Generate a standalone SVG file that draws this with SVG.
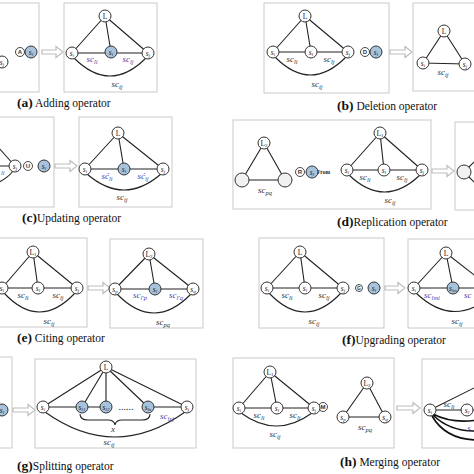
<svg xmlns="http://www.w3.org/2000/svg" width="474" height="474" viewBox="0 0 474 474">
<defs>
<style>
.box{fill:#fff;stroke:#c9c9c9;stroke-width:1}
.e{stroke:#222;stroke-width:1.1;fill:none}
.th{stroke:#111;stroke-width:1.6;fill:none}
.n{fill:#fff;stroke:#333;stroke-width:1}
.b{fill:#a7c2dc;stroke:#333;stroke-width:1}
.g{fill:#f1f1f1;stroke:#333;stroke-width:1}
.nl{font-family:"Liberation Serif",serif;font-style:italic;font-size:7.5px;text-anchor:middle;fill:#222}
.up{font-style:normal}
.sb{font-size:5px}
.lab{font-family:"Liberation Serif",serif;font-style:italic;font-size:9px;text-anchor:middle;fill:#333}
.lab .sb{font-size:6.5px}
.blu{fill:#4a45b0}
.arr{fill:#fff;stroke:#bdbdbd;stroke-width:1.2}
.op circle{fill:none;stroke:#333;stroke-width:0.9}
.op text{font-family:"Liberation Sans",sans-serif;font-weight:bold;font-size:6px;text-anchor:middle;fill:#333}
.cap{font-family:"Liberation Serif",serif;font-size:11.5px;fill:#111}
.cb{font-weight:bold;font-size:13.5px}
.from{font-family:"Liberation Serif",serif;font-weight:bold;font-size:5.5px;fill:#222}
</style>
</defs>

<g id="boxes">
<rect class="box" x="-5" y="3" width="44" height="89"/>
<rect class="box" x="64" y="3" width="93" height="89"/>
<rect class="box" x="264" y="3" width="125" height="90"/>
<rect class="box" x="413" y="3" width="70" height="88"/>
<rect class="box" x="-5" y="117" width="59" height="90"/>
<rect class="box" x="79" y="117" width="93" height="90"/>
<rect class="box" x="233" y="120" width="198" height="89"/>
<rect class="box" x="455" y="122" width="30" height="88"/>
<rect class="box" x="-5" y="238" width="92" height="89"/>
<rect class="box" x="110" y="239" width="93" height="89"/>
<rect class="box" x="259" y="238" width="125" height="90"/>
<rect class="box" x="408" y="239" width="75" height="89"/>
<rect class="box" x="-5" y="357" width="17" height="91"/>
<rect class="box" x="35" y="359" width="161" height="89"/>
<rect class="box" x="233" y="358" width="161" height="90"/>
<rect class="box" x="422" y="359" width="60" height="89"/>
</g>

<g id="arrows">
<path class="arr" d="M42,50 H56 V46.5 L63,52 L56,57.5 V54 H42 Z"/>
<path class="arr" d="M390,50 H405 V46.5 L412,52 L405,57.5 V54 H390 Z"/>
<path class="arr" d="M55,164 H70 V160.5 L77,166 L70,171.5 V168 H55 Z"/>
<path class="arr" d="M432,169 H447 V165.5 L454,171 L447,176.5 V173 H432 Z"/>
<path class="arr" d="M88,286 H103 V282.5 L110,288 L103,293.5 V290 H88 Z"/>
<path class="arr" d="M385,286 H398 V282.5 L405,288 L398,293.5 V290 H385 Z"/>
<path class="arr" d="M13,408 H28 V404.5 L35,410 L28,415.5 V412 H13 Z"/>
<path class="arr" d="M397,406 H413 V402.5 L420,408 L413,413.5 V410 H397 Z"/>
</g>

<g id="connectors">
<path class="e" d="M-3,54 L1,58"/>
<path class="e" d="M105,16 L72,53 M105,16 L111,52 M105,16 L148,53 M72,53 L148,53"/>
<path class="e" d="M74,58 Q110,94 146,58"/>
<path class="e" d="M305,16 L273,52 M305,16 L311,52 M305,16 L348,52 M273,52 L348,52"/>
<path class="e" d="M275,57 Q310.5,93 346,57"/>
<path class="e" d="M444,31 L423,63 M444,31 L465,64 M423,63 L465,64"/>
<path class="e" d="M-2,147 L15,166 M-2,166 L15,166 M-3,183 Q8,178 13,171"/>
<path class="e" d="M118,133 L85,169 M118,133 L124,169 M118,133 L163,169 M85,169 L163,169"/>
<path class="e" d="M87,174 Q124,206 161,174"/>
<path class="e" d="M264,143 L242,180 M264,143 L285,180 M242,180 L285,180"/>
<path class="e" d="M380,133 L347,170 M380,133 L384,170 M380,133 L422,170 M347,170 L422,170"/>
<path class="e" d="M349,175 Q384.5,209 420,175"/>
<path class="e" d="M464,172 L478,158 M464,172 L478,186"/>
<path class="e" d="M33,252 L2,288 M33,252 L38,288 M33,252 L77,288 M2,288 L77,288"/>
<path class="e" d="M4,293 Q39.5,331 75,293"/>
<path class="e" d="M149,254 L115,289 M149,254 L155,289 M149,254 L193,289 M115,289 L193,289"/>
<path class="e" d="M117,294 Q154,332 191,294"/>
<path class="e" d="M300,252 L267,288 M300,252 L305,288 M300,252 L343,288 M267,288 L343,288"/>
<path class="e" d="M269,293 Q305,331 341,293"/>
<path class="e" d="M446,253 L414,288 M446,253 L453,288 M446,253 L478,278 M414,288 L478,288"/>
<path class="e" d="M416,293 Q455,330 494,293"/>
<path class="e" d="M106,367 L43,407 M106,367 L82,407 M106,367 L106,407 M106,367 L148,407 M106,367 L187,407 M43,407 L106,407 M148,407 L187,407"/>
<path class="e" d="M45,412 Q115,462 185,412"/>
<path class="e" d="M80,414 Q80,420 88,420 H108 Q114,420 115,425 Q116,420 122,420 H142 Q150,420 150,414"/>
<path class="e" d="M270,372 L239,408 M270,372 L277,408 M270,372 L314,408 M239,408 L314,408"/>
<path class="e" d="M241,413 Q276.5,439 312,413"/>
<path class="e" d="M367,383 L343,417 M367,383 L385,417 M343,417 L385,417"/>
<path class="e" d="M430,410 L478,386 M430,410 L478,410"/>
<path class="th" d="M433,414 Q452,424 478,420 M433,415 Q450,432 478,431 M432,416 Q446,440 478,440"/>
</g>

<g id="ops">
<g class="op"><circle cx="20" cy="52" r="4.5"/><text x="20" y="54.2">A</text></g>
<g class="op"><circle cx="365" cy="52" r="4.5"/><text x="365" y="54.2">D</text></g>
<g class="op"><circle cx="28" cy="166" r="4.5"/><text x="28" y="168.2">U</text></g>
<g class="op"><circle cx="300" cy="172" r="4.5"/><text x="300" y="174.2">R</text></g>
<g class="op"><circle cx="359" cy="288" r="3.5"/><text x="359" y="290" style="font-size:5px">G</text></g>
<g class="op"><circle cx="323" cy="407" r="4.5"/><text x="323" y="409.2">M</text></g>
<text class="from" x="317" y="174">From</text>
</g>

<g id="n-a-left-sj"><circle class="n" cx="2" cy="62" r="6"/><text class="nl" x="2" y="64.5">s<tspan class="sb" dy="1.5">j</tspan></text></g>
<g id="n-a-new"><circle class="b" cx="31" cy="52" r="6"/><text class="nl" x="31" y="54.5">s<tspan class="sb" dy="1.5">l</tspan></text></g>
<g id="n-a-L"><circle class="n" cx="105" cy="16" r="6"/><text class="nl up" x="105" y="18.5">L</text></g>
<g id="n-a-si"><circle class="n" cx="72" cy="53" r="6"/><text class="nl" x="72" y="55.5">s<tspan class="sb" dy="1.5">i</tspan></text></g>
<g id="n-a-sl"><circle class="b" cx="111" cy="52" r="6"/><text class="nl" x="111" y="54.5">s<tspan class="sb" dy="1.5">l</tspan></text></g>
<g id="n-a-sj"><circle class="n" cx="148" cy="53" r="6"/><text class="nl" x="148" y="55.5">s<tspan class="sb" dy="1.5">j</tspan></text></g>

<g id="n-b-L"><circle class="n" cx="305" cy="16" r="6"/><text class="nl up" x="305" y="18.5">L</text></g>
<g id="n-b-si"><circle class="n" cx="273" cy="52" r="6"/><text class="nl" x="273" y="54.5">s<tspan class="sb" dy="1.5">i</tspan></text></g>
<g id="n-b-sl"><circle class="n" cx="311" cy="52" r="6"/><text class="nl" x="311" y="54.5">s<tspan class="sb" dy="1.5">l</tspan></text></g>
<g id="n-b-sj"><circle class="n" cx="348" cy="52" r="6"/><text class="nl" x="348" y="54.5">s<tspan class="sb" dy="1.5">j</tspan></text></g>
<g id="n-b-del"><circle class="b" cx="376" cy="52" r="6"/><text class="nl" x="376" y="54.5">s<tspan class="sb" dy="1.5">l</tspan></text></g>
<g id="n-b2-L"><circle class="n" cx="444" cy="31" r="6"/><text class="nl up" x="444" y="33.5">L</text></g>
<g id="n-b2-si"><circle class="n" cx="423" cy="63" r="6"/><text class="nl" x="423" y="65.5">s<tspan class="sb" dy="1.5">i</tspan></text></g>
<g id="n-b2-sj"><circle class="n" cx="465" cy="64" r="6"/><text class="nl" x="465" y="66.5">s<tspan class="sb" dy="1.5">j</tspan></text></g>

<g id="n-c-left-sj"><circle class="n" cx="15" cy="166" r="6"/><text class="nl" x="15" y="168.5">s<tspan class="sb" dy="1.5">j</tspan></text></g>
<g id="n-c-new"><circle class="b" cx="44" cy="166" r="6"/><text class="nl" x="44" y="168.5">s<tspan class="sb" dy="1.5">l</tspan></text></g>
<g id="n-c-L"><circle class="n" cx="118" cy="133" r="6"/><text class="nl up" x="118" y="135.5">L</text></g>
<g id="n-c-si"><circle class="n" cx="85" cy="169" r="6"/><text class="nl" x="85" y="171.5">s<tspan class="sb" dy="1.5">i</tspan></text></g>
<g id="n-c-sl"><circle class="b" cx="124" cy="169" r="6"/><text class="nl" x="124" y="171.5">s<tspan class="sb" dy="1.5">l</tspan></text></g>
<g id="n-c-sj"><circle class="n" cx="163" cy="169" r="6"/><text class="nl" x="163" y="171.5">s<tspan class="sb" dy="1.5">j</tspan></text></g>

<g id="n-d-L2"><circle class="n" cx="264" cy="143" r="6"/><text class="nl up" x="264" y="145.5">L<tspan class="sb" dy="1.5">2</tspan></text></g>
<g id="n-d-p"><circle class="g" cx="242" cy="180" r="7"/></g>
<g id="n-d-q"><circle class="g" cx="285" cy="180" r="7"/></g>
<g id="n-d-new"><circle class="b" cx="312" cy="172" r="6"/><text class="nl" x="312" y="174.5">s<tspan class="sb" dy="1.5">l</tspan></text></g>
<g id="n-d-L1"><circle class="n" cx="380" cy="133" r="6"/><text class="nl up" x="380" y="135.5">L<tspan class="sb" dy="1.5">1</tspan></text></g>
<g id="n-d-si"><circle class="n" cx="347" cy="170" r="6"/><text class="nl" x="347" y="172.5">s<tspan class="sb" dy="1.5">i</tspan></text></g>
<g id="n-d-sl"><circle class="n" cx="384" cy="170" r="6"/><text class="nl" x="384" y="172.5">s<tspan class="sb" dy="1.5">l</tspan></text></g>
<g id="n-d-sj"><circle class="n" cx="422" cy="170" r="6"/><text class="nl" x="422" y="172.5">s<tspan class="sb" dy="1.5">j</tspan></text></g>
<g id="n-d2-p"><circle class="g" cx="464" cy="172" r="7"/></g>

<g id="n-e-L1"><circle class="n" cx="33" cy="252" r="6"/><text class="nl up" x="33" y="254.5">L<tspan class="sb" dy="1.5">1</tspan></text></g>
<g id="n-e-si"><circle class="n" cx="2" cy="288" r="6"/><text class="nl" x="2" y="290.5">s<tspan class="sb" dy="1.5">i</tspan></text></g>
<g id="n-e-sl"><circle class="n" cx="38" cy="288" r="6"/><text class="nl" x="38" y="290.5">s<tspan class="sb" dy="1.5">l</tspan></text></g>
<g id="n-e-sj"><circle class="n" cx="77" cy="288" r="6"/><text class="nl" x="77" y="290.5">s<tspan class="sb" dy="1.5">j</tspan></text></g>
<g id="n-e2-L2"><circle class="n" cx="149" cy="254" r="6"/><text class="nl up" x="149" y="256.5">L<tspan class="sb" dy="1.5">2</tspan></text></g>
<g id="n-e2-sp"><circle class="n" cx="115" cy="289" r="6"/><text class="nl" x="115" y="291.5">s<tspan class="sb" dy="1.5">p</tspan></text></g>
<g id="n-e2-sl"><circle class="b" cx="155" cy="289" r="6"/><text class="nl" x="155" y="291.5">s<tspan class="sb" dy="1.5">l</tspan></text></g>
<g id="n-e2-sq"><circle class="n" cx="193" cy="289" r="6"/><text class="nl" x="193" y="291.5">s<tspan class="sb" dy="1.5">q</tspan></text></g>

<g id="n-f-L"><circle class="n" cx="300" cy="252" r="6"/><text class="nl up" x="300" y="254.5">L</text></g>
<g id="n-f-si"><circle class="n" cx="267" cy="288" r="6"/><text class="nl" x="267" y="290.5">s<tspan class="sb" dy="1.5">i</tspan></text></g>
<g id="n-f-sl"><circle class="n" cx="305" cy="288" r="6"/><text class="nl" x="305" y="290.5">s<tspan class="sb" dy="1.5">l</tspan></text></g>
<g id="n-f-sj"><circle class="n" cx="343" cy="288" r="6"/><text class="nl" x="343" y="290.5">s<tspan class="sb" dy="1.5">j</tspan></text></g>
<g id="n-f-new"><circle class="b" cx="374" cy="288" r="6"/><text class="nl" x="374" y="290.5">s<tspan class="sb" dy="1.5">l</tspan></text></g>
<g id="n-f2-L"><circle class="n" cx="446" cy="253" r="6"/><text class="nl up" x="446" y="255.5">L</text></g>
<g id="n-f2-si"><circle class="n" cx="414" cy="288" r="6"/><text class="nl" x="414" y="290.5">s<tspan class="sb" dy="1.5">i</tspan></text></g>
<g id="n-f2-slm"><circle class="b" cx="453" cy="288" r="6"/><text class="nl" x="453" y="290.5">s<tspan class="sb" dy="1.5">lm</tspan></text></g>

<g id="n-g-left"><circle class="b" cx="2" cy="410" r="6"/><text class="nl" x="2" y="412.5">s<tspan class="sb" dy="1.5">l</tspan></text></g>
<g id="n-g-L"><circle class="n" cx="106" cy="367" r="6"/><text class="nl up" x="106" y="369.5">L</text></g>
<g id="n-g-si"><circle class="n" cx="43" cy="407" r="6"/><text class="nl" x="43" y="409.5">s<tspan class="sb" dy="1.5">i</tspan></text></g>
<g id="n-g-sl1"><circle class="b" cx="82" cy="407" r="6"/><text class="nl" x="82" y="409.5">s<tspan class="sb" dy="1.5">l1</tspan></text></g>
<g id="n-g-sl2"><circle class="b" cx="106" cy="407" r="6"/><text class="nl" x="106" y="409.5">s<tspan class="sb" dy="1.5">l2</tspan></text></g>
<text class="nl up" x="126" y="410" style="font-size:10px;fill:#222">......</text>
<g id="n-g-slx"><circle class="b" cx="148" cy="407" r="6"/><text class="nl" x="148" y="409.5">s<tspan class="sb" dy="1.5">lx</tspan></text></g>
<g id="n-g-sj"><circle class="n" cx="187" cy="407" r="6"/><text class="nl" x="187" y="409.5">s<tspan class="sb" dy="1.5">j</tspan></text></g>

<g id="n-h-L1"><circle class="n" cx="270" cy="372" r="6"/><text class="nl up" x="270" y="374.5">L<tspan class="sb" dy="1.5">1</tspan></text></g>
<g id="n-h-si"><circle class="n" cx="239" cy="408" r="6"/><text class="nl" x="239" y="410.5">s<tspan class="sb" dy="1.5">i</tspan></text></g>
<g id="n-h-sl"><circle class="n" cx="277" cy="408" r="6"/><text class="nl" x="277" y="410.5">s<tspan class="sb" dy="1.5">l</tspan></text></g>
<g id="n-h-sj"><circle class="n" cx="314" cy="408" r="6"/><text class="nl" x="314" y="410.5">s<tspan class="sb" dy="1.5">j</tspan></text></g>
<g id="n-h-L2"><circle class="n" cx="367" cy="383" r="6"/><text class="nl up" x="367" y="385.5">L<tspan class="sb" dy="1.5">2</tspan></text></g>
<g id="n-h-sp"><circle class="n" cx="343" cy="417" r="6"/><text class="nl" x="343" y="419.5">s<tspan class="sb" dy="1.5">p</tspan></text></g>
<g id="n-h-sq"><circle class="n" cx="385" cy="417" r="6"/><text class="nl" x="385" y="419.5">s<tspan class="sb" dy="1.5">q</tspan></text></g>
<g id="n-h2-si"><circle class="n" cx="430" cy="410" r="6"/><text class="nl" x="430" y="412.5">s<tspan class="sb" dy="1.5">i</tspan></text></g>
<g id="n-h2-sl"><circle class="n" cx="467" cy="410" r="6"/><text class="nl" x="467" y="412.5">s<tspan class="sb" dy="1.5">l</tspan></text></g>

<g id="labels">
<text class="lab blu" x="92" y="62">sc<tspan class="sb" dy="1.5">li</tspan></text>
<text class="lab blu" x="128" y="62">sc<tspan class="sb" dy="1.5">lj</tspan></text>
<text class="lab" x="117" y="87">sc<tspan class="sb" dy="1.5">ij</tspan></text>

<text class="lab" x="292" y="62">sc<tspan class="sb" dy="1.5">li</tspan></text>
<text class="lab" x="329" y="62">sc<tspan class="sb" dy="1.5">lj</tspan></text>
<text class="lab" x="317" y="87">sc<tspan class="sb" dy="1.5">ij</tspan></text>
<text class="lab" x="443" y="75">sc<tspan class="sb" dy="1.5">ij</tspan></text>

<text class="lab blu" x="1" y="175" style="text-anchor:start;font-size:6.5px">li</text>
<text class="lab blu" x="107" y="179">sć<tspan class="sb" dy="1.5">li</tspan></text>
<text class="lab blu" x="143" y="179">sć<tspan class="sb" dy="1.5">lj</tspan></text>
<text class="lab" x="122" y="200">sc<tspan class="sb" dy="1.5">ij</tspan></text>

<text class="lab" x="265" y="193">sc<tspan class="sb" dy="1.5">pq</tspan></text>
<text class="lab" x="365" y="180">sc<tspan class="sb" dy="1.5">li</tspan></text>
<text class="lab" x="402" y="180">sc<tspan class="sb" dy="1.5">lj</tspan></text>
<text class="lab" x="390" y="203">sc<tspan class="sb" dy="1.5">ij</tspan></text>

<text class="lab" x="23" y="298">sc<tspan class="sb" dy="1.5">li</tspan></text>
<text class="lab" x="58" y="298">sc<tspan class="sb" dy="1.5">lj</tspan></text>
<text class="lab" x="49" y="324">sc<tspan class="sb" dy="1.5">ij</tspan></text>
<text class="lab blu" x="140" y="298">sc<tspan class="sb" dy="1.5">l′p</tspan></text>
<text class="lab blu" x="176" y="298">sc<tspan class="sb" dy="1.5">l′q</tspan></text>
<text class="lab" x="163" y="325">sc<tspan class="sb" dy="1.5">pq</tspan></text>

<text class="lab" x="287" y="298">sc<tspan class="sb" dy="1.5">li</tspan></text>
<text class="lab" x="324" y="298">sc<tspan class="sb" dy="1.5">lj</tspan></text>
<text class="lab" x="314" y="324">sc<tspan class="sb" dy="1.5">ij</tspan></text>
<text class="lab blu" x="432" y="298">sc<tspan class="sb" dy="1.5">lmi</tspan></text>
<text class="lab blu" x="464" y="298" style="text-anchor:start">sc</text>
<text class="lab" x="457" y="324">sc<tspan class="sb" dy="1.5">ij</tspan></text>

<text class="lab" x="113" y="432">x</text>
<text class="lab blu" x="167" y="419">sc<tspan class="sb" dy="1.5">lxj</tspan></text>
<text class="lab" x="109" y="445">sc<tspan class="sb" dy="1.5">ij</tspan></text>

<text class="lab" x="259" y="418">sc<tspan class="sb" dy="1.5">li</tspan></text>
<text class="lab" x="295" y="418">sc<tspan class="sb" dy="1.5">lj</tspan></text>
<text class="lab" x="275" y="437">sc<tspan class="sb" dy="1.5">ij</tspan></text>
<text class="lab" x="365" y="430">sc<tspan class="sb" dy="1.5">pq</tspan></text>
<text class="lab" x="449" y="407">sc<tspan class="sb" dy="1.5">li</tspan></text>
<text class="lab blu" x="469" y="431">s</text>
</g>

<g id="captions">
<text class="cap" x="17" y="107"><tspan class="cb">(a)</tspan> Adding operator</text>
<text class="cap" x="337" y="110"><tspan class="cb">(b)</tspan> Deletion operator</text>
<text class="cap" x="22" y="222"><tspan class="cb">(c)</tspan>Updating operator</text>
<text class="cap" x="337" y="226"><tspan class="cb">(d)</tspan>Replication operator</text>
<text class="cap" x="17" y="342"><tspan class="cb">(e)</tspan> Citing operator</text>
<text class="cap" x="342" y="344"><tspan class="cb">(f)</tspan>Upgrading operator</text>
<text class="cap" x="17" y="470"><tspan class="cb">(g)</tspan>Splitting operator</text>
<text class="cap" x="340" y="466"><tspan class="cb">(h)</tspan> Merging operator</text>
</g>
</svg>
